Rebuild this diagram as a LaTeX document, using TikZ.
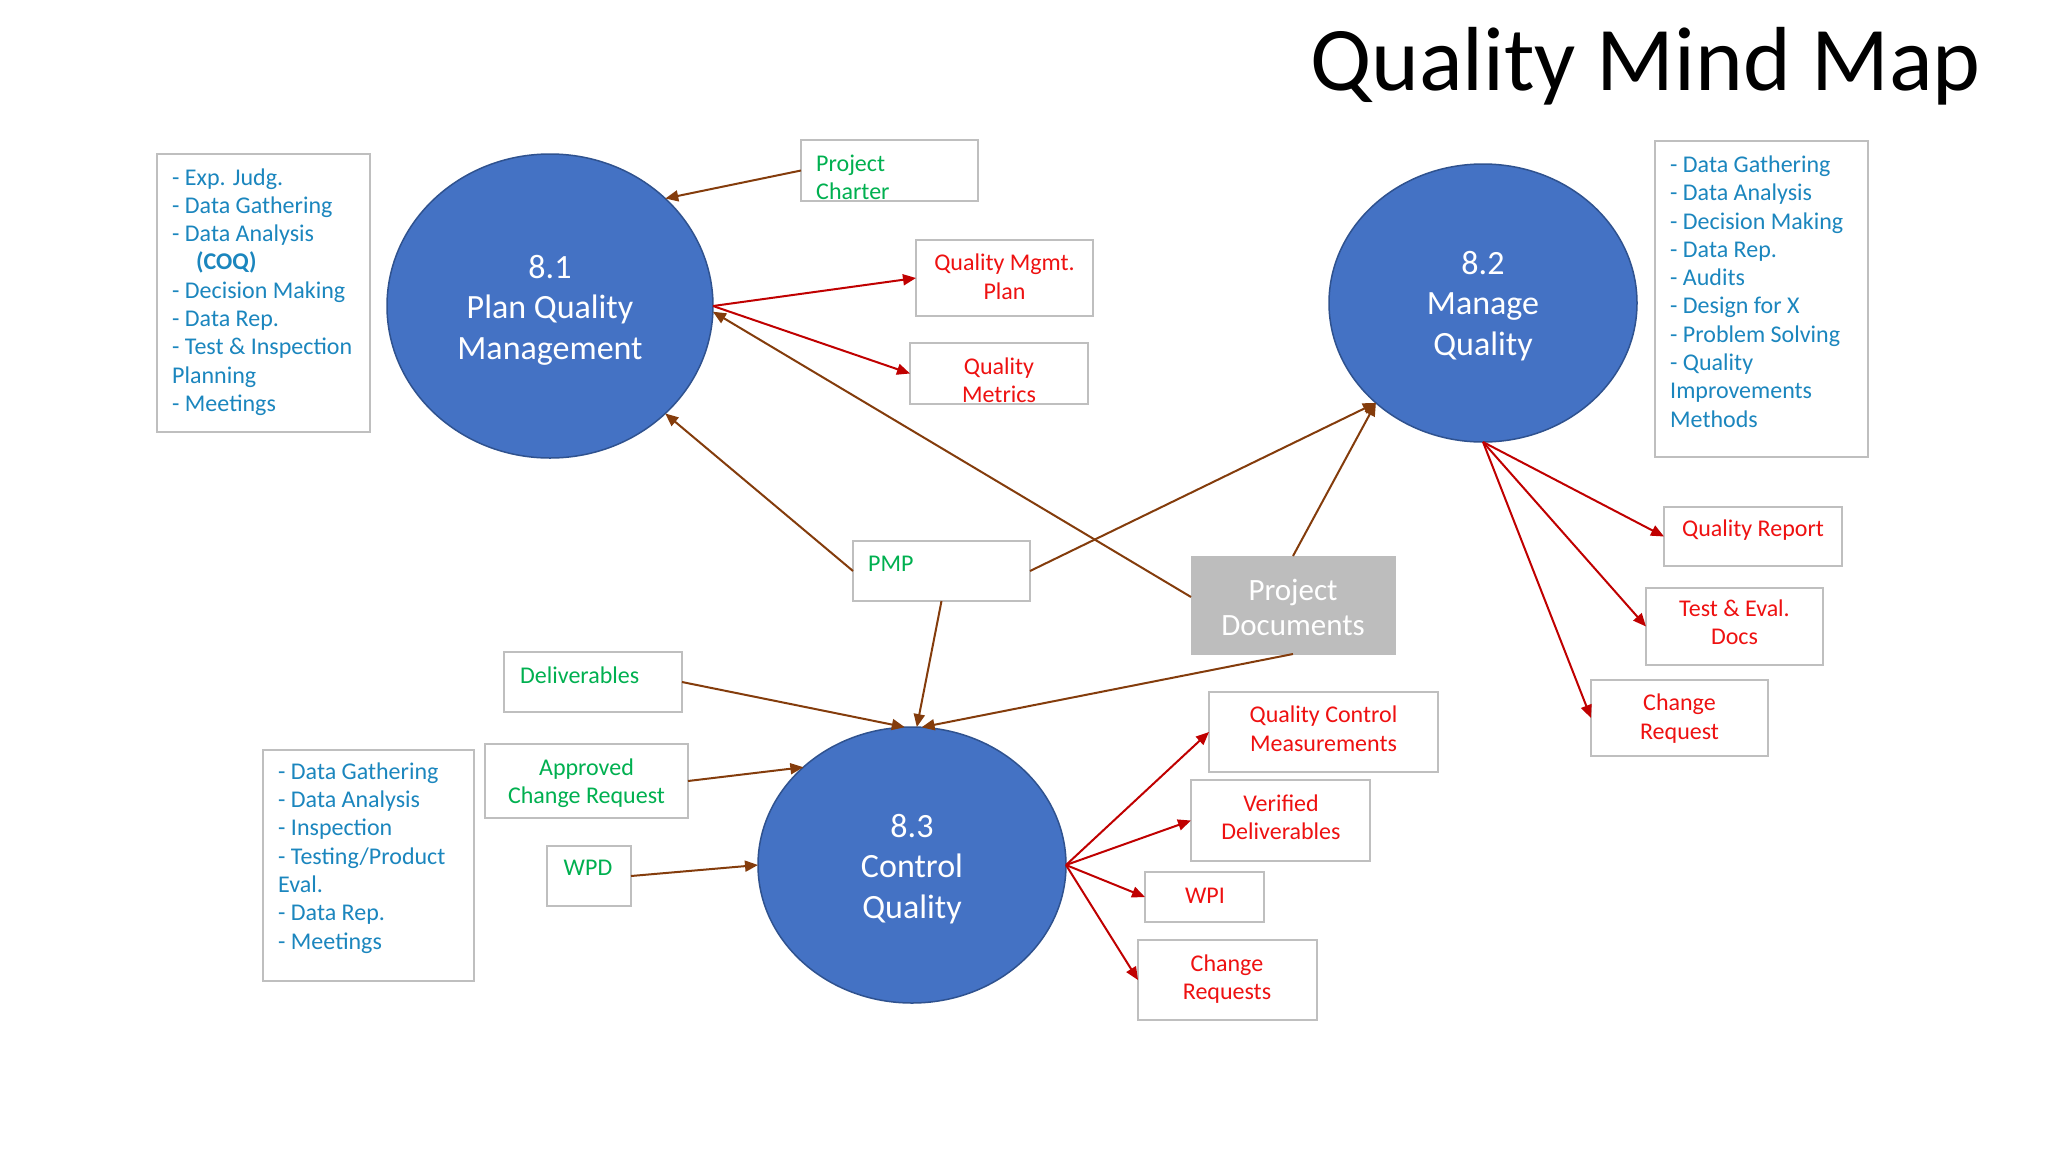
\documentclass[tikz,border=0pt]{standalone}
\usepackage{fontspec}
\setmainfont{Carlito}
\usetikzlibrary{shapes.geometric,arrows.meta}
\definecolor{circF}{HTML}{4472C4}
\definecolor{circB}{HTML}{2F528F}
\definecolor{boxG}{HTML}{BFBFBF}
\definecolor{pdG}{HTML}{BDBDBD}
\definecolor{listB}{HTML}{1B86BE}
\definecolor{txtG}{HTML}{00B050}
\definecolor{txtR}{HTML}{EE1111}
\definecolor{arrR}{HTML}{C00000}
\definecolor{arrBr}{HTML}{843C0C}
\tikzset{
  proc/.style={ellipse, draw=circB, fill=circF, line width=1.5pt, inner sep=0pt, outer sep=0pt},
  proctxt/.style={inner sep=0pt, text=white, font=\fontsize{34}{40.5}\selectfont, align=center},
  boxn/.style={rectangle, draw=boxG, line width=1.8pt, inner sep=0pt, outer sep=0pt, fill=white},
  pdbox/.style={rectangle, draw=pdG, fill=pdG, line width=1pt, inner sep=0pt, outer sep=0pt},
  gtxt/.style={text=txtG, font=\fontsize{24}{28.5}\selectfont, inner sep=0pt},
  rtxt/.style={text=txtR, font=\fontsize{24}{28.5}\selectfont, inner sep=0pt, align=center},
  ltxt/.style={text=listB, font=\fontsize{24}{28.3}\selectfont, inner sep=0pt, align=left, anchor=west},
  arR/.style={draw=arrR, line width=2pt, -{Triangle[length=13pt,width=11pt]}},
  arB/.style={draw=arrBr, line width=2pt, -{Triangle[length=13pt,width=11pt]}}
}
\begin{document}
\begin{tikzpicture}[x=1pt,y=-1pt]
\useasboundingbox[fill=white] (0,0) rectangle (2048,1152);

% title
\node[anchor=base west, inner sep=0pt, font=\fontsize{91}{100}\selectfont] (title) at (1310,90) {Quality Mind Map};

% process circles
\node[proc, minimum width=326pt, minimum height=304pt] (c1) at (550,306) {};
\node[proctxt] (c1t) at (550,310) {8.1\\Plan Quality\\Management};
\node[proc, minimum width=308pt, minimum height=278pt] (c2) at (1483,303) {};
\node[proctxt] (c2t) at (1483,306) {8.2\\Manage\\Quality};
\node[proc, minimum width=308pt, minimum height=276pt] (c3) at (912,865) {};
\node[proctxt] (c3t) at (912,869) {8.3\\Control\\Quality};

% list boxes
\node[boxn, minimum width=213pt, minimum height=278pt] (l1) at (263.5,293) {};
\node[ltxt] (l1t) at (172,292) {- Exp. Judg.\\- Data Gathering\\- Data Analysis\\\hspace*{24pt}\textbf{(COQ)}\\- Decision Making\\- Data Rep.\\- Test \& Inspection\\Planning\\- Meetings};
\node[boxn, minimum width=211pt, minimum height=231pt] (l2) at (368.5,865.5) {};
\node[ltxt] (l2t) at (278,858) {- Data Gathering\\- Data Analysis\\- Inspection\\- Testing/Product\\Eval.\\- Data Rep.\\- Meetings};
\node[boxn, minimum width=213pt, minimum height=316pt] (l3) at (1761.5,299) {};
\node[ltxt] (l3t) at (1670,291.5) {- Data Gathering\\- Data Analysis\\- Decision Making\\- Data Rep.\\- Audits\\- Design for X\\- Problem Solving\\- Quality\\Improvements\\Methods};

% input boxes
\node[boxn, minimum width=177pt, minimum height=61pt] (pc) at (889.5,170.5) {};
\node[gtxt, anchor=west, align=left] (pct) at (816,177.5) {Project\\Charter};
\node[boxn, minimum width=177pt, minimum height=60pt] (pmp) at (941.5,571) {};
\node[gtxt, anchor=west] (pmpt) at (868,564) {PMP};
\node[pdbox, minimum width=204pt, minimum height=98pt] (pd) at (1293,605) {};
\node[inner sep=0pt, text=white, align=center, font=\fontsize{31}{35}\selectfont] (pdt) at (1293,607) {Project\\Documents};
\node[boxn, minimum width=178pt, minimum height=60pt] (del) at (593,682) {};
\node[gtxt, anchor=west] (delt) at (520,675) {Deliverables};
\node[boxn, minimum width=203pt, minimum height=74pt] (acr) at (586.5,781) {};
\node[gtxt, align=center] (acrt) at (586.5,783) {Approved\\Change Request};
\node[boxn, minimum width=84pt, minimum height=60pt] (wpd) at (589,876) {};
\node[gtxt] (wpdt) at (588,868) {WPD};

% output boxes
\node[boxn, minimum width=177pt, minimum height=76pt] (qmp) at (1004.5,278) {};
\node[rtxt] (qmpt) at (1004.5,276.5) {Quality Mgmt.\\Plan};
\node[boxn, minimum width=178pt, minimum height=61pt] (qmet) at (999,373.5) {};
\node[rtxt] (qmett) at (999,380) {Quality\\Metrics};
\node[boxn, minimum width=178pt, minimum height=59pt] (qr) at (1753,536.5) {};
\node[rtxt] (qrt) at (1753,530.5) {Quality Report};
\node[boxn, minimum width=177pt, minimum height=77pt] (ted) at (1734.5,626.5) {};
\node[rtxt] (tedt) at (1734.5,622) {Test \& Eval.\\Docs};
\node[boxn, minimum width=177pt, minimum height=76pt] (cr) at (1679.5,718) {};
\node[rtxt] (crt) at (1679.5,718.5) {Change\\Request};
\node[boxn, minimum width=229pt, minimum height=80pt] (qcm) at (1323.5,732) {};
\node[rtxt] (qcmt) at (1323.5,728.5) {Quality Control\\Measurements};
\node[boxn, minimum width=179pt, minimum height=81pt] (vd) at (1280.5,820.5) {};
\node[rtxt] (vdt) at (1281,817) {Verified\\Deliverables};
\node[boxn, minimum width=119pt, minimum height=50pt] (wpi) at (1204.5,897) {};
\node[rtxt] (wpit) at (1205,895.5) {WPI};
\node[boxn, minimum width=179pt, minimum height=80pt] (crs) at (1227.5,980) {};
\node[rtxt] (crst) at (1227,979) {Change\\Requests};

% connectors into 8.1
\draw[arB] (pc.west) -- (c1.43);
\draw[arB] ([yshift=8pt]pd.west) -- (c1.-2);
\draw[arB] (pmp.west) -- (c1.-43);
% outputs of 8.1
\draw[arR] (c1.east) -- (qmp.west);
\draw[arR] (c1.east) -- (qmet.west);
% into 8.2
\draw[arB] (pmp.east) -- (c2.223);
\draw[arB] (pd.north) -- (c2.223);
% outputs of 8.2
\draw[arR] (c2.south) -- (qr.west);
\draw[arR] (c2.south) -- (ted.west);
\draw[arR] (c2.south) -- (cr.west);
% into 8.3
\draw[arB] (pmp.south) -- (c3.88);
\draw[arB] (del.east) -- (c3.93);
\draw[arB] (pd.south) -- (c3.86);
\draw[arB] (acr.east) -- (c3.138);
\draw[arB] (wpd.east) -- (c3.west);
% outputs of 8.3
\draw[arR] (c3.east) -- (qcm.west);
\draw[arR] (c3.east) -- (vd.west);
\draw[arR] (c3.east) -- (wpi.west);
\draw[arR] (c3.east) -- (crs.west);
\end{tikzpicture}
\end{document}
